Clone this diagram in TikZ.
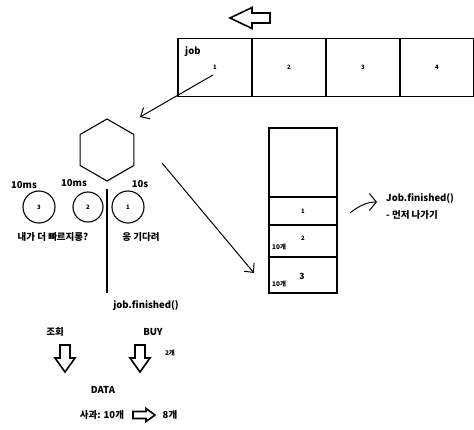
\documentclass[tikz,border=0pt]{standalone}
\usepackage{fontspec}
\setmainfont{Noto Sans CJK KR}
\usetikzlibrary{shapes.geometric, arrows.meta, positioning, calc}

\tikzset{
  cell/.style={rectangle, draw, line width=1.6pt, minimum width=74pt, minimum height=58pt,
               inner sep=0pt, outer sep=0pt, font=\fontsize{6}{7}\selectfont\bfseries},
  slot/.style={rectangle, draw, line width=1.8pt, minimum width=68pt, inner sep=0pt, outer sep=0pt},
  ball/.style={circle, draw, line width=1.1pt, inner sep=0pt, font=\fontsize{6}{7}\selectfont\bfseries},
  lbl/.style={font=\fontsize{9.5}{11}\selectfont\bfseries, inner sep=1pt},
  tiny/.style={font=\fontsize{6.5}{7}\selectfont\bfseries, inner sep=1pt},
  barb/.style={-{Straight Barb[length=7pt,width=13pt]}, line width=1pt},
  pics/fatarrow/.style args={#1/#2/#3/#4}{code={
    \draw[line width=1.6pt, line join=miter]
      (0,-#3) -- (#1-#2,-#3) -- (#1-#2,-#4) -- (#1,0) -- (#1-#2,#4) -- (#1-#2,#3) -- (0,#3) -- cycle;}},
}

\begin{document}
\begin{tikzpicture}[x=1pt, y=-1pt]
\useasboundingbox[fill=white] (0,0) rectangle (474,430);

% queue of jobs
\pic[rotate=180] at (270,18) {fatarrow=40/22/5/10.5};
\node[cell] (q1) at (215,67.5) {1};
\node[cell, right=0pt of q1] (q2) {2};
\node[cell, right=0pt of q2] (q3) {3};
\node[cell, right=0pt of q3] (q4) {4};
\node[lbl, anchor=west] (job) at (184,52) {job};

% worker
\node[regular polygon, regular polygon sides=6, shape border rotate=30, draw,
      line width=1.1pt, minimum size=62pt, inner sep=0pt] (hex) at (107,150) {};
\coordinate (tip1) at (140,117);
\draw[barb] ([shift={(-2pt,-7.5pt)}]q1.center) -- (tip1);
\coordinate (stem) at (107,293);
\draw[line width=1.8pt] ([yshift=-7pt]hex.south) -- (stem);

% threads
\node[ball, minimum size=32pt] (b3) at (39,207) {3};
\node[ball, minimum size=30pt] (b2) at (88,207) {2};
\node[ball, minimum size=32pt] (b1) at (128,207) {1};
\node[lbl, anchor=south] at ([xshift=-15pt,yshift=1pt]b3.north) {10ms};
\node[lbl, anchor=south] at ([xshift=-14pt,yshift=4pt]b2.north) {10ms};
\node[lbl, anchor=south] at ([xshift=12pt,yshift=2pt]b1.north) {10s};
\node[lbl] (fast) at (53,237) {내가 더 빠르지롱?};
\node[lbl] (wait) at (141,237) {응 기다려};

% stack
\node[slot, minimum height=69pt] (s0) at (303,162.5) {};
\node[slot, minimum height=28pt, below=0pt of s0, font=\fontsize{6}{7}\selectfont\bfseries] (s1) {1};
\node[slot, minimum height=32pt, below=0pt of s1] (s2) {};
\node[slot, minimum height=36pt, below=0pt of s2] (s3) {};
\node[font=\fontsize{6}{7}\selectfont\bfseries, inner sep=0pt] at (303,238) {2};
\node[tiny, anchor=west] at (271,247) {10개};
\node[font=\fontsize{8.5}{9}\selectfont\bfseries, inner sep=0pt] at (302,276) {3};
\node[tiny, anchor=west] at (271,284) {10개};

\coordinate (from) at (162,163);
\coordinate (tip2) at (254,273);
\draw[barb] (from) -- (tip2);

\node[lbl, anchor=west] (done) at (385,198) {Job.finished()};
\node[lbl, anchor=west] (first) at (385,215) {- 먼저 나가기};
\coordinate (cfrom) at (350,213);
\coordinate (ctip) at (377,202);
\draw[barb, -{Straight Barb[length=7pt,width=17pt]}] (cfrom) .. controls (360,205) and (368,202) .. (ctip);

% bottom part
\node[lbl] (fin) at (146,306) {job.finished()};
\node[lbl] (look) at (55,332) {조회};
\node[lbl] (buy) at (153,332) {BUY};
\pic[rotate=-90] at (65,345) {fatarrow=27/14/5/10};
\pic[rotate=-90] at (140,345) {fatarrow=27/14/5/10};
\node[tiny] (two) at (170,353) {2개};
\node[lbl] (data) at (103,390) {DATA};
\node[lbl] (apple) at (102,415) {사과: 10개};
\pic at (133,415) {fatarrow=22/9/3.5/6.5};
\node[lbl] (eight) at (170,415) {8개};
\end{tikzpicture}
\end{document}
